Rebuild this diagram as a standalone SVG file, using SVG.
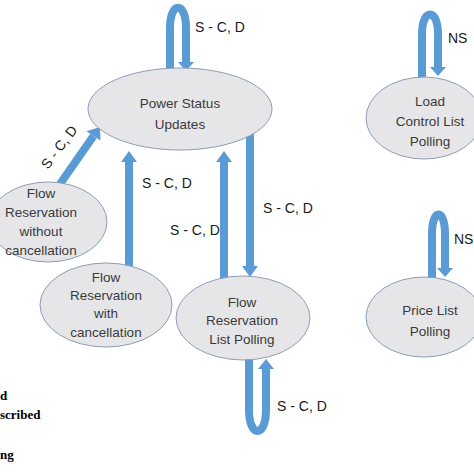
<svg xmlns="http://www.w3.org/2000/svg" width="474" height="474" viewBox="0 0 474 474">
<defs>
<style>
.node ellipse{fill:#e6e6e8;stroke:#8d9db6;stroke-width:1}
.node text{font-family:"Liberation Sans",Arial,sans-serif;font-size:13.5px;fill:#3a3a3a;text-anchor:middle}
.bar{fill:none;stroke:#5b9bd5;stroke-width:8}
.loop{fill:none;stroke:#5b9bd5;stroke-width:8}
.head{fill:#5b9bd5}
.lbl{font-family:"Liberation Sans",Arial,sans-serif;font-size:14px;fill:#1a1a1a}
.leg{font-family:"Liberation Serif","Times New Roman",serif;font-size:13px;font-weight:bold;fill:#000}
</style>
</defs>
<rect width="474" height="474" fill="#ffffff"/>
<g id="connectors">
  <path class="loop" d="M170,74 L170,28 C170,1 186,1 186,28 L186,62"/>
  <polygon class="head" points="178,62 194,62 186,71"/>
  <path class="loop" d="M422,80 L422,34 C422,8 438,8 438,34 L438,67"/>
  <polygon class="head" points="430,67 446,67 438,76"/>
  <path class="loop" d="M432,280 L432,234 C432,208 445,208 445,234 L445,268"/>
  <polygon class="head" points="437,268 453,268 445,277"/>
  <path class="loop" d="M249,354 L249,410 C249,438 266,438 266,410 L266,369"/>
  <polygon class="head" points="258,369 274,369 266,359"/>
  <line class="bar" x1="60" y1="184" x2="93.5" y2="136"/>
  <polygon class="head" points="100.5,140.6 86.5,131.2 100,127"/>
  <line class="bar" x1="129" y1="268" x2="129" y2="161"/>
  <polygon class="head" points="121,162 137,162 129,151"/>
  <line class="bar" x1="224" y1="280" x2="224" y2="161"/>
  <polygon class="head" points="216,162 232,162 224,151"/>
  <line class="bar" x1="250" y1="134" x2="250" y2="267"/>
  <polygon class="head" points="242,266 258,266 250,277"/>
  <text class="lbl" x="195" y="32">S - C, D</text>
  <text class="lbl" x="59" y="152" text-anchor="middle" transform="rotate(-53 59 147)">S - C, D</text>
  <text class="lbl" x="142" y="188">S - C, D</text>
  <text class="lbl" x="170" y="235">S - C, D</text>
  <text class="lbl" x="263" y="213">S - C, D</text>
  <text class="lbl" x="277" y="411">S - C, D</text>
  <text class="lbl" x="448" y="43">NS</text>
  <text class="lbl" x="454" y="244">NS</text>
</g>
<g id="power-status" class="node">
  <ellipse cx="180" cy="109" rx="92" ry="41"/>
  <text x="180" y="108">Power Status</text>
  <text x="180" y="129">Updates</text>
</g>
<g id="load-control" class="node">
  <ellipse cx="424" cy="118" rx="58" ry="41"/>
  <text x="430" y="106">Load</text>
  <text x="430" y="126">Control List</text>
  <text x="430" y="146">Polling</text>
</g>
<g id="price-list" class="node">
  <ellipse cx="424" cy="317" rx="58" ry="40"/>
  <text x="430" y="315">Price List</text>
  <text x="430" y="336">Polling</text>
</g>
<g id="flow-without" class="node">
  <ellipse cx="48" cy="222" rx="59" ry="40"/>
  <text x="41" y="198">Flow</text>
  <text x="41" y="217">Reservation</text>
  <text x="41" y="236">without</text>
  <text x="41" y="255">cancellation</text>
</g>
<g id="flow-with" class="node">
  <ellipse cx="106" cy="305" rx="66" ry="42"/>
  <text x="106" y="282">Flow</text>
  <text x="106" y="300">Reservation</text>
  <text x="106" y="318">with</text>
  <text x="106" y="337">cancellation</text>
</g>
<g id="flow-list-polling" class="node">
  <ellipse cx="243" cy="318" rx="67" ry="42"/>
  <text x="242" y="307">Flow</text>
  <text x="242" y="325">Reservation</text>
  <text x="242" y="344">List Polling</text>
</g>
<g id="legend">
  <text class="leg" x="0" y="400">d</text>
  <text class="leg" x="0" y="419">scribed</text>
  <text class="leg" x="0" y="459">ng</text>
</g>
</svg>
